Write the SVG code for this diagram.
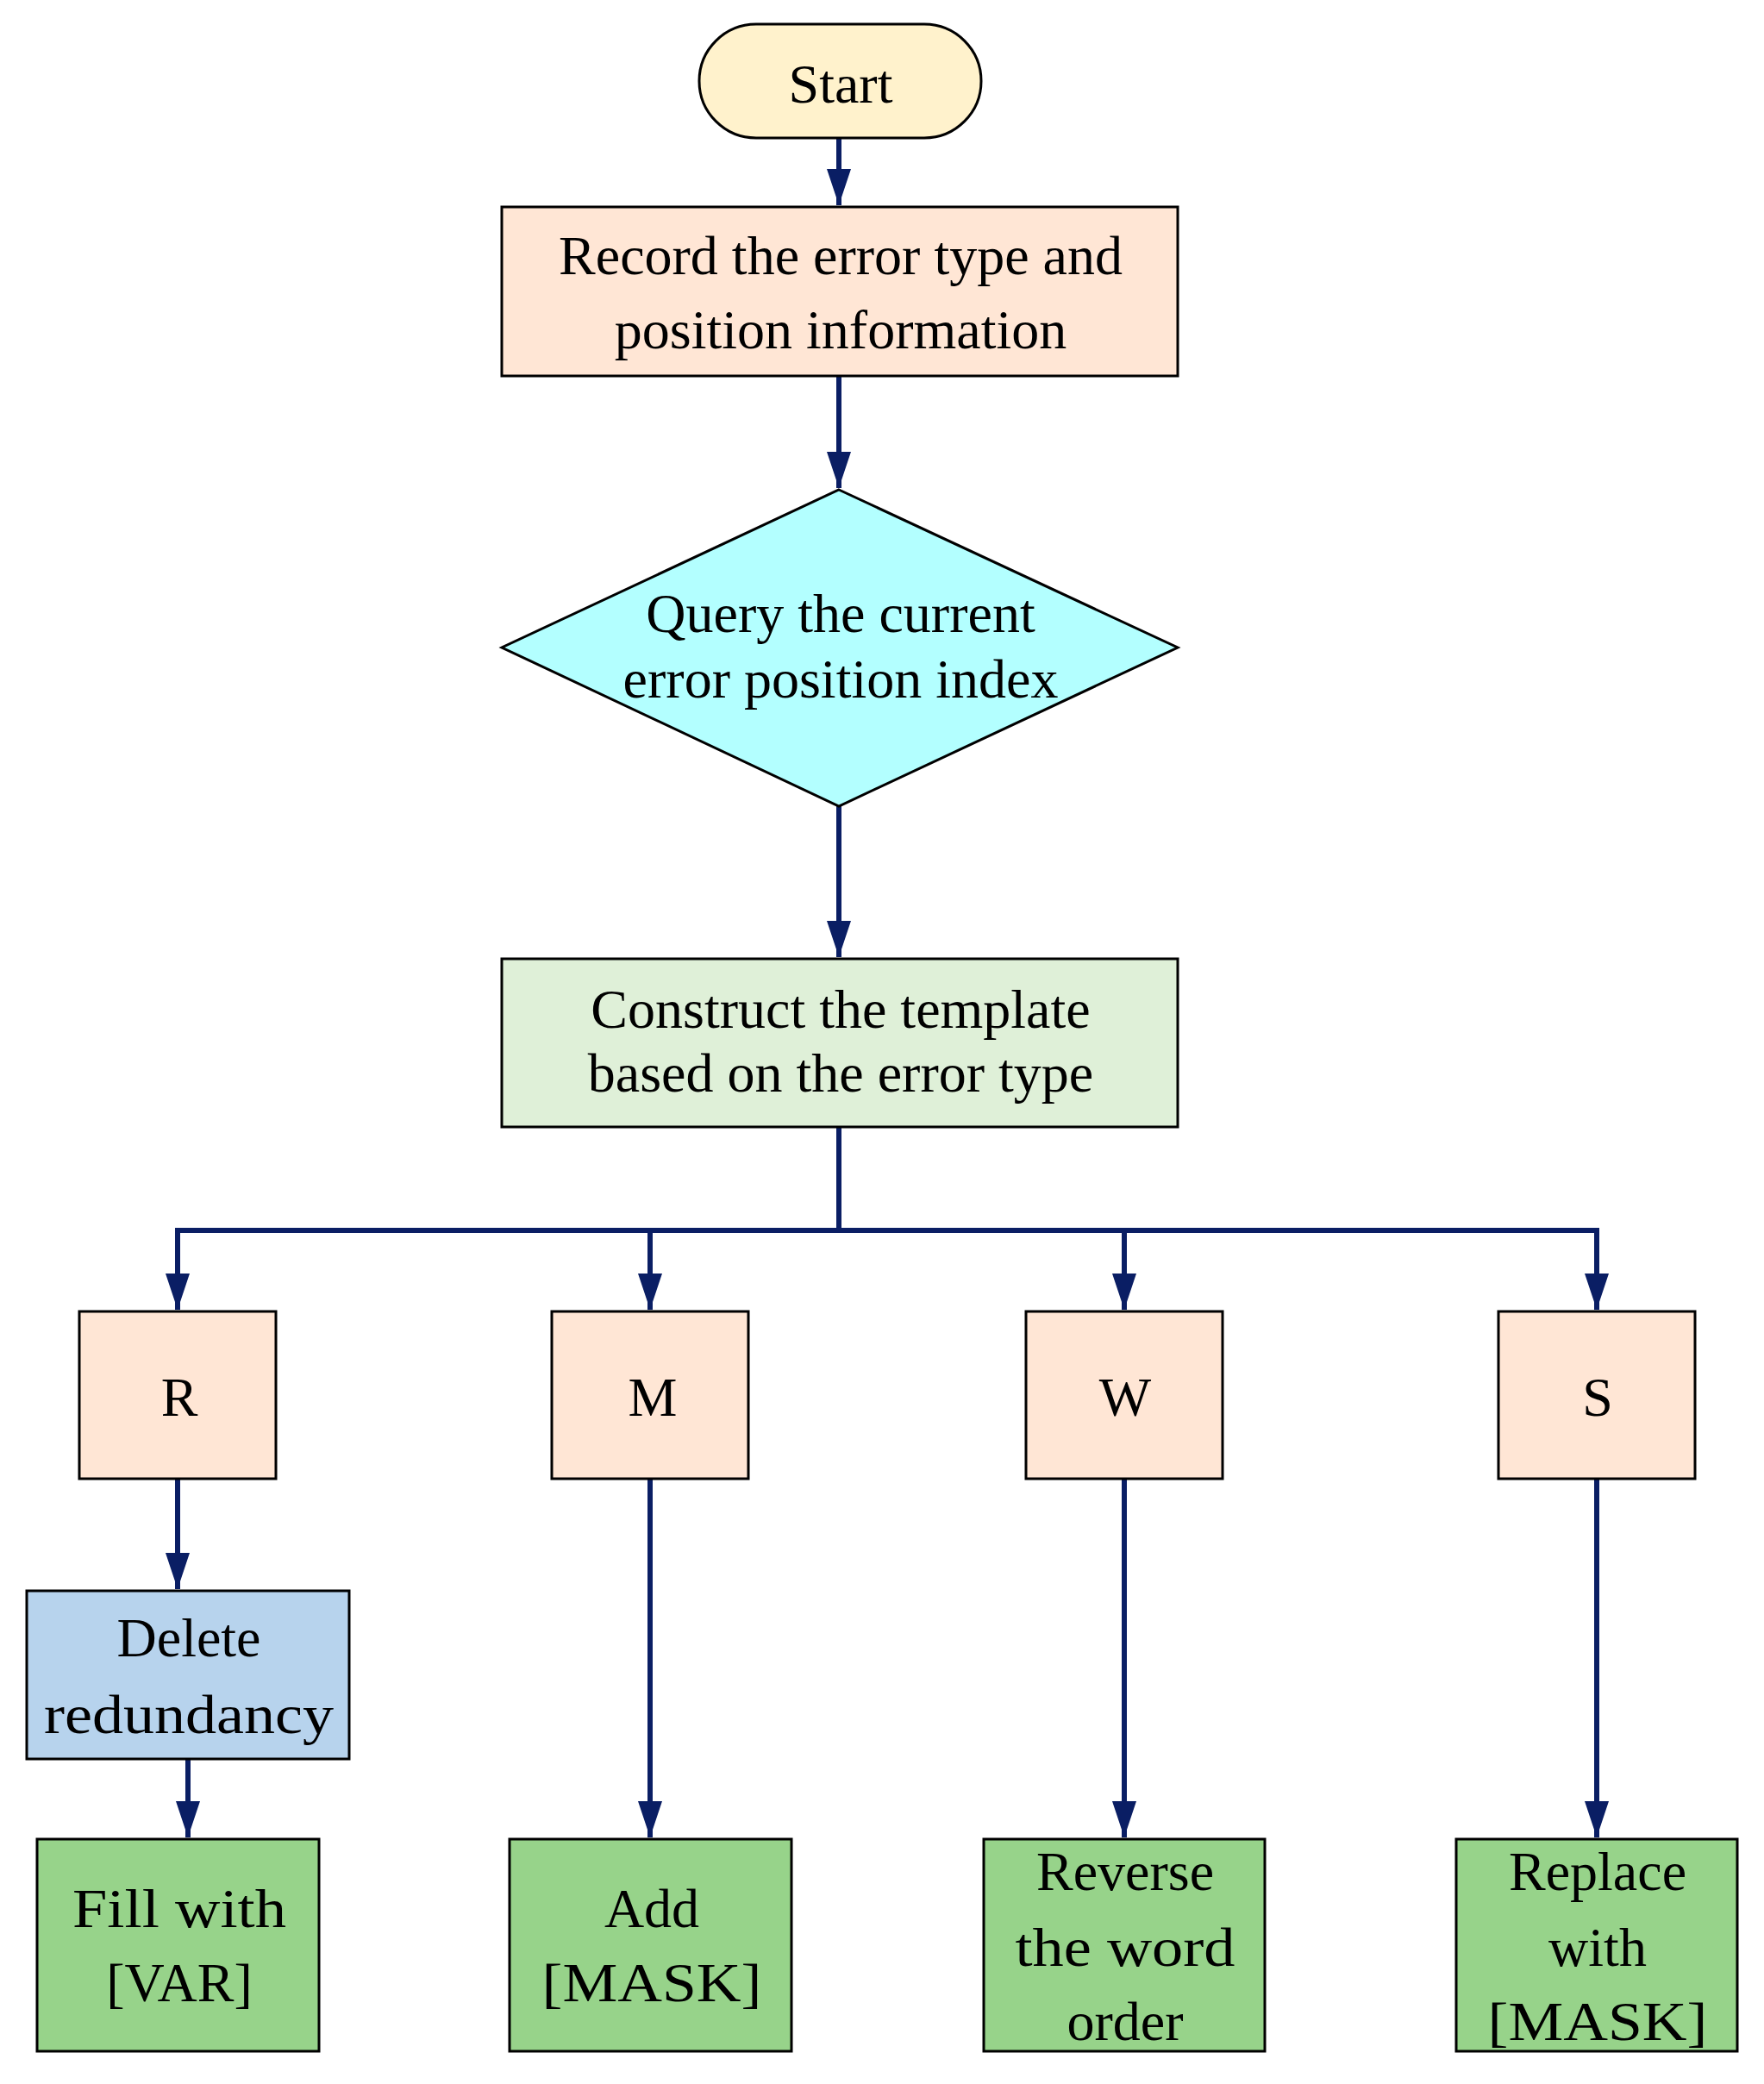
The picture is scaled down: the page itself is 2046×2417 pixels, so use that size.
<svg xmlns="http://www.w3.org/2000/svg" width="2046" height="2417" viewBox="0 0 2046 2417">
<style>
.n{stroke:#000;stroke-width:3}
.t{font-family:"Liberation Serif","Times New Roman",serif;font-size:64px;text-anchor:middle;fill:#000}
.c{fill:none;stroke:#0a1e64;stroke-width:6}
</style>
<defs><marker id="a" markerUnits="userSpaceOnUse" markerWidth="30" markerHeight="44" refX="15" refY="42" orient="auto-start-reverse" viewBox="0 0 30 44"><path d="M1,0 L29,0 L15,42 Z" fill="#0a1e64" transform="rotate(0)"/></marker>
<marker id="b" markerUnits="userSpaceOnUse" markerWidth="44" markerHeight="30" refX="42" refY="15" orient="auto" viewBox="0 0 44 30"><path d="M0,1 L42,15 L0,29 Z" fill="#0a1e64"/></marker></defs>
<rect width="2046" height="2417" fill="#fff"/>
<g id="connectors">
<path class="c" marker-end="url(#b)" d="M973,160 V238"/>
<path class="c" marker-end="url(#b)" d="M973,436 V566"/>
<path class="c" marker-end="url(#b)" d="M973,935 V1110"/>
<path class="c" d="M973,1307 V1427 M203,1427 H1855"/>
<path class="c" marker-end="url(#b)" d="M206,1427 V1519"/>
<path class="c" marker-end="url(#b)" d="M754,1427 V1519"/>
<path class="c" marker-end="url(#b)" d="M1304,1427 V1519"/>
<path class="c" marker-end="url(#b)" d="M1852,1427 V1519"/>
<path class="c" marker-end="url(#b)" d="M206,1715 V1843"/>
<path class="c" marker-end="url(#b)" d="M218,2040 V2131"/>
<path class="c" marker-end="url(#b)" d="M754,1715 V2131"/>
<path class="c" marker-end="url(#b)" d="M1304,1715 V2131"/>
<path class="c" marker-end="url(#b)" d="M1852,1715 V2131"/>
</g>
<g id="start"><rect class="n" x="811" y="28" width="327" height="132" rx="66" fill="#fff2cc" stroke-width="5"/><text class="t" x="975" y="119">Start</text></g>
<g id="record"><rect class="n" x="582" y="240" width="784" height="196" fill="#ffe6d5"/><text class="t" x="975" y="318">Record the error type and</text><text class="t" x="975" y="404">position information</text></g>
<g id="query"><polygon class="n" points="973,568 1366,751 973,935 582,751" fill="#b3ffff" stroke-width="5"/><text class="t" x="975" y="733">Query the current</text><text class="t" x="975" y="809">error position index</text></g>
<g id="construct"><rect class="n" x="582" y="1112" width="784" height="195" fill="#dff0d8"/><text class="t" x="975" y="1192">Construct the template</text><text class="t" x="975" y="1266">based on the error type</text></g>
<g id="R"><rect class="n" x="92" y="1521" width="228" height="194" fill="#ffe6d5"/><text class="t" x="208" y="1642">R</text></g>
<g id="M"><rect class="n" x="640" y="1521" width="228" height="194" fill="#ffe6d5"/><text class="t" x="757" y="1642">M</text></g>
<g id="W"><rect class="n" x="1190" y="1521" width="228" height="194" fill="#ffe6d5"/><text class="t" x="1305" y="1642">W</text></g>
<g id="S"><rect class="n" x="1738" y="1521" width="228" height="194" fill="#ffe6d5"/><text class="t" x="1853" y="1642">S</text></g>
<g id="delete"><rect class="n" x="31" y="1845" width="374" height="195" fill="#b7d3ed"/><text class="t" x="219" y="1921">Delete</text><text class="t" x="219" y="2010" textLength="336" lengthAdjust="spacingAndGlyphs">redundancy</text></g>
<g id="fill"><rect class="n" x="43" y="2133" width="327" height="246" fill="#97d38a"/><text class="t" x="208" y="2235" textLength="248" lengthAdjust="spacingAndGlyphs">Fill with</text><text class="t" x="208" y="2321">[VAR]</text></g>
<g id="add"><rect class="n" x="591" y="2133" width="327" height="246" fill="#97d38a"/><text class="t" x="756" y="2235">Add</text><text class="t" x="756" y="2321" textLength="255" lengthAdjust="spacingAndGlyphs">[MASK]</text></g>
<g id="reverse"><rect class="n" x="1141" y="2133" width="326" height="246" fill="#97d38a"/><text class="t" x="1305" y="2192">Reverse</text><text class="t" x="1305" y="2280" textLength="255" lengthAdjust="spacingAndGlyphs">the word</text><text class="t" x="1305" y="2366">order</text></g>
<g id="replace"><rect class="n" x="1689" y="2133" width="326" height="246" fill="#97d38a"/><text class="t" x="1853" y="2192">Replace</text><text class="t" x="1853" y="2280">with</text><text class="t" x="1853" y="2366" textLength="255" lengthAdjust="spacingAndGlyphs">[MASK]</text></g>
</svg>
